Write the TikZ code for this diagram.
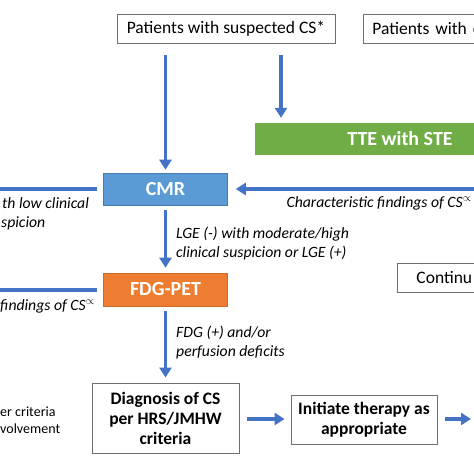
\documentclass[tikz,border=0pt]{standalone}
\usepackage{fontspec}
\setmainfont{Carlito}
\usetikzlibrary{arrows.meta}
\definecolor{arrblue}{HTML}{4472C4}
\definecolor{cmrblue}{HTML}{5B9BD5}
\definecolor{petorange}{HTML}{ED7D31}
\definecolor{ttegreen}{HTML}{70AD47}
\definecolor{boxgray}{HTML}{6F6F6F}
\tikzset{
  box/.style={draw=boxgray, line width=0.9pt, fill=white, inner sep=0pt, align=center, font=\fontsize{17.5}{20}\selectfont},
  bbox/.style={box, font=\fontsize{17.5}{20}\selectfont\bfseries},
  colbox/.style={inner sep=0pt, text=white, font=\fontsize{20}{22}\selectfont\bfseries},
  arr/.style={draw=arrblue, line width=3.3pt, -{Triangle[width=12pt,length=10pt]}},
  bline/.style={draw=arrblue, line width=3.3pt},
  lab/.style={inner sep=0pt, anchor=west, font=\fontsize{15.7}{18}\selectfont\itshape},
  side/.style={inner sep=0pt, anchor=west, font=\fontsize{14}{16}\selectfont},
}
\begin{document}
\begin{tikzpicture}[x=1pt,y=-1pt]
\useasboundingbox (0,0) rectangle (474,474);
\clip (0,0) rectangle (474,474);
% boxes
\node[box, minimum width=218pt, minimum height=29pt] (top) at (226,28.5) {Patients with suspected CS*};
\node[box, minimum width=150pt, minimum height=29pt, anchor=west, text width=135pt, align=left, inner xsep=9pt] (top2) at (363,28.5) {Patients with e};
\node[colbox, fill=ttegreen, minimum width=290pt, minimum height=32pt] (tte) at (400,139) {TTE with STE};
\node[colbox, fill=cmrblue, draw=cmrblue!80!black, line width=0.6pt, minimum width=124pt, minimum height=32pt] (cmr) at (165.5,189) {CMR};
\node[colbox, fill=petorange, draw=petorange!85!black, line width=0.6pt, minimum width=124pt, minimum height=33pt] (pet) at (165.5,289.5) {FDG-PET};
\node[box, minimum width=120pt, minimum height=29pt, anchor=west, text width=105pt, align=left, inner xsep=19pt] (cont) at (397,277.5) {Continu};
\node[bbox, minimum width=147pt, minimum height=70pt] (diag) at (165.5,418) {Diagnosis of CS\\per HRS/JMHW\\criteria};
\node[bbox, minimum width=146pt, minimum height=49pt] (init) at (364,419.5) {Initiate therapy as\\appropriate};
% free ends
\coordinate (rin) at (480,189);
\coordinate (lcmr) at (-5,189);
\coordinate (lpet) at (-5,290);
\coordinate (rout) at (471,419);
% connectors
\draw[arr, shorten <=12pt, shorten >=3pt] (top.south -| cmr.north) -- (cmr.north);
\draw[arr, shorten <=12pt, shorten >=5pt] ([xshift=55pt]top.south) -- ([xshift=55pt]top.south |- tte.north);
\draw[arr, shorten >=8pt] (rin) -- (cmr.east);
\draw[bline, shorten <=6pt] (cmr.west) -- (lcmr);
\draw[arr, shorten <=5pt, shorten >=5pt] (cmr.south) -- (pet.north);
\draw[bline, shorten <=6pt] (pet.west |- lpet) -- (lpet);
\draw[arr, shorten <=5pt, shorten >=5pt] (pet.south) -- (diag.north);
\draw[arr, shorten <=8pt, shorten >=6pt] (diag.east |- rout) -- (init.west |- rout);
\draw[arr, shorten <=8pt] (init.east |- rout) -- (rout);
% labels
\node[lab, anchor=east] (lchar) at (472,203) {Characteristic findings of CS$^{\propto}$};
\node[lab] (l1a) at (2,203) {th low clinical};
\node[lab] (l1b) at (1,223) {spicion};
\node[lab] (l2a) at (176,234) {LGE (-) with moderate/high};
\node[lab] (l2b) at (176,253) {clinical suspicion or LGE (+)};
\node[lab] (l3) at (0,306) {findings of CS$^{\propto}$};
\node[lab] (l4a) at (176,333) {FDG (+) and/or};
\node[lab] (l4b) at (176,352) {perfusion deficits};
\node[side] (s1) at (0,412) {er criteria};
\node[side] (s2) at (0,429) {volvement};
\end{tikzpicture}
\end{document}
